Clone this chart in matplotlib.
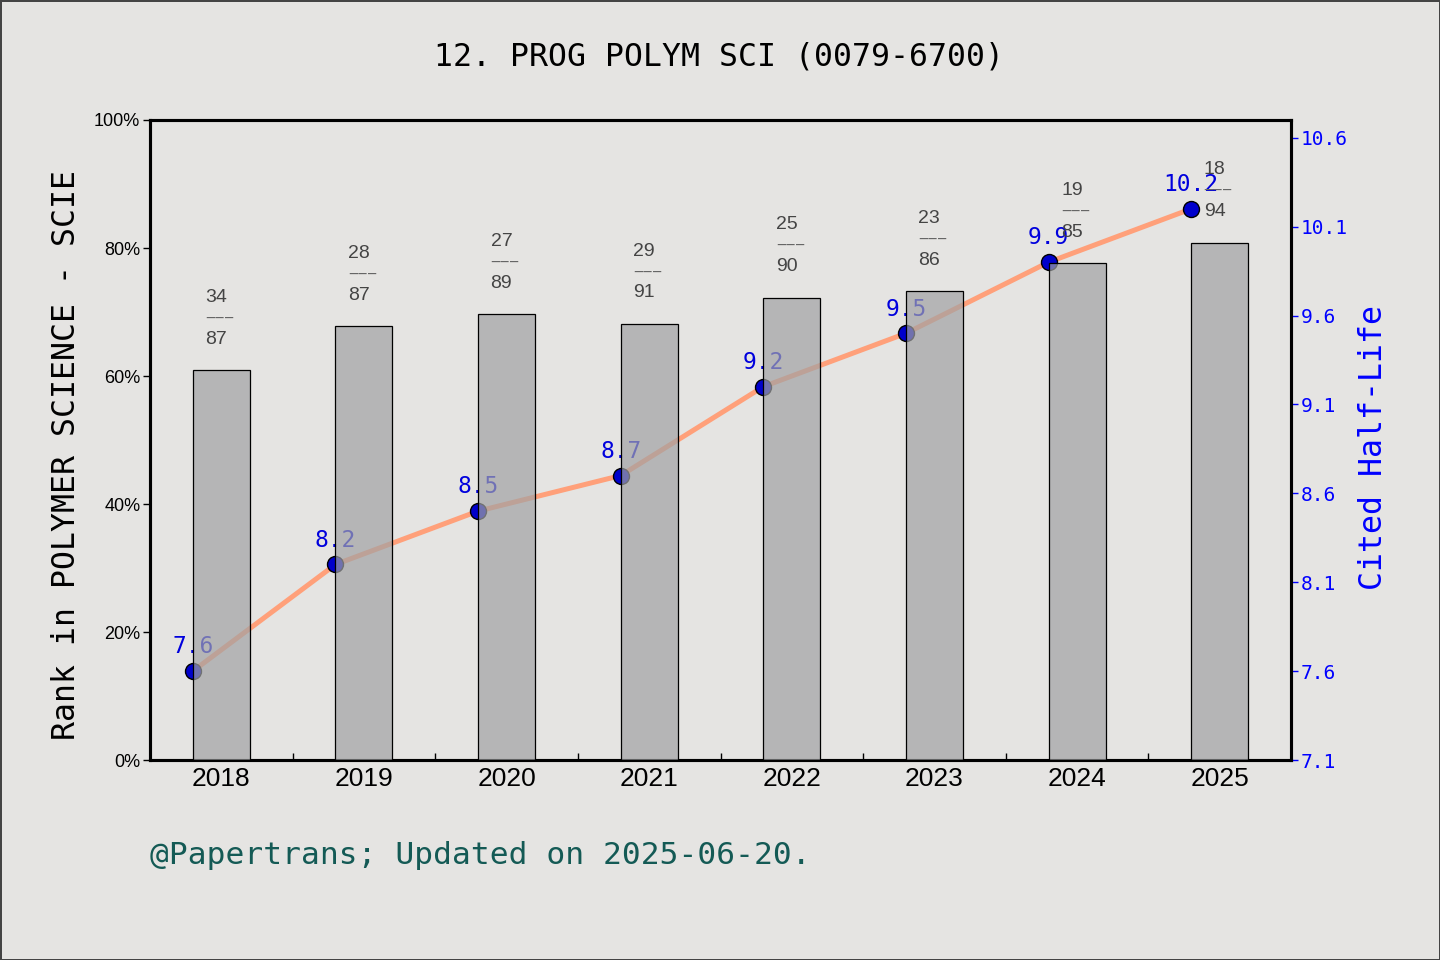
import numpy as np
import matplotlib; matplotlib.use('Agg')
import matplotlib.pyplot as plt
from matplotlib.ticker import FixedLocator, PercentFormatter

years = ['2018', '2019', '2020', '2021', '2022', '2023', '2024', '2025']
rank = [34, 28, 27, 29, 25, 23, 19, 18]
total = [87, 87, 89, 91, 90, 86, 85, 94]
half_life = [7.6, 8.2, 8.5, 8.7, 9.2, 9.5, 9.9, 10.2]
hl_ticks = [7.1, 7.6, 8.1, 8.6, 9.1, 9.6, 10.1, 10.6]

MONO = 'DejaVu Sans Mono'
SANS = 'Liberation Sans'
BG = '#e5e4e2'

x = np.arange(len(years))
pct = [100 * (1 - r / t) for r, t in zip(rank, total)]
bw = 0.4

fig = plt.figure(figsize=(14.4, 9.6), dpi=100, facecolor=BG,
                 edgecolor='#444444', linewidth=1)
ax = fig.add_axes([0.1042, 0.2083, 0.7923, 0.6667])
ax2 = ax.twinx()
# line axis goes behind the bars
ax2.set_zorder(ax.get_zorder() - 1)
ax.patch.set_visible(False)
ax2.patch.set_facecolor('white')

# cited half-life line, points sit on the left edge of each bar
xl = x - bw / 2
ax2.plot(xl, half_life, color='#ffa07a', lw=3.6, zorder=2)
ax2.plot(xl, half_life, 'o', ms=11.5, mfc='#0000cc', mec='black', mew=1, zorder=3)
for xi, v in zip(xl, half_life):
    ax2.annotate(f'{v:.1f}', (xi, v), xytext=(0, 17.5), textcoords='offset points',
                 ha='center', va='center', color='#0000dd', fontsize=16.5, family=MONO)
ax2.set_ylim(min(half_life) - 0.5, max(half_life) + 0.5)
ax2.yaxis.set_major_locator(FixedLocator(hl_ticks))
ax2.set_yticklabels([f'{t:.1f}' for t in hl_ticks], family=MONO, fontsize=14, color='blue')
ax2.tick_params(axis='y', colors='blue', length=5, width=1, pad=2)

# rank bars
ax.bar(x, pct, width=bw, color=(0.63, 0.634, 0.645, 0.7), edgecolor='black',
       linewidth=0.9, zorder=3)
for xi, p, r, t in zip(x, pct, rank, total):
    kw = dict(xycoords='data', textcoords='offset points', ha='left', va='center',
              color='#444444', zorder=5)
    ax.annotate(str(r), (xi, p), xytext=(-11.5, 52.5), fontsize=14, family=SANS, **kw)
    ax.annotate('−−−', (xi, p), xytext=(-11.5, 37.5), fontsize=11.5, family=MONO,
                **{**kw, 'color': '#666666'})
    ax.annotate(str(t), (xi, p), xytext=(-11.5, 22.3), fontsize=14, family=SANS, **kw)

ax.set_xlim(-0.5, len(years) - 0.5)
ax.set_ylim(0, 100)
ax.set_xticks(x)
ax.set_xticklabels(years, family=SANS, fontsize=19)
ax.set_xticks(x[:-1] + 0.5, minor=True)
ax.tick_params(axis='x', which='major', length=0, pad=5)
ax.tick_params(axis='x', which='minor', direction='in', length=5, width=1)
ax.set_yticks(np.arange(0, 101, 20))
ax.yaxis.set_major_formatter(PercentFormatter(decimals=0))
ax.tick_params(axis='y', length=5, width=1, pad=2, labelsize=13)
for lab in ax.get_yticklabels():
    lab.set_family(SANS)
for sp in list(ax.spines.values()) + list(ax2.spines.values()):
    sp.set_linewidth(2.2)
    sp.set_color('black')

fig.text(0.4993, 0.9406, '12. PROG POLYM SCI (0079-6700)', ha='center', va='center',
         family=MONO, fontsize=22.7)
fig.text(0.0465, 0.526, 'Rank in POLYMER SCIENCE - SCIE', rotation=90, ha='center',
         va='center', family=MONO, fontsize=22.7)
fig.text(0.9535, 0.534, 'Cited Half-Life', rotation=90, ha='center', va='center',
         family=MONO, fontsize=22.7, color='blue')
fig.text(0.104, 0.109, '@Papertrans; Updated on 2025-06-20.', ha='left', va='center',
         family=MONO, fontsize=22.5, color='#145a55')

fig.savefig('out.png', dpi=100, facecolor=BG, edgecolor='#444444')
